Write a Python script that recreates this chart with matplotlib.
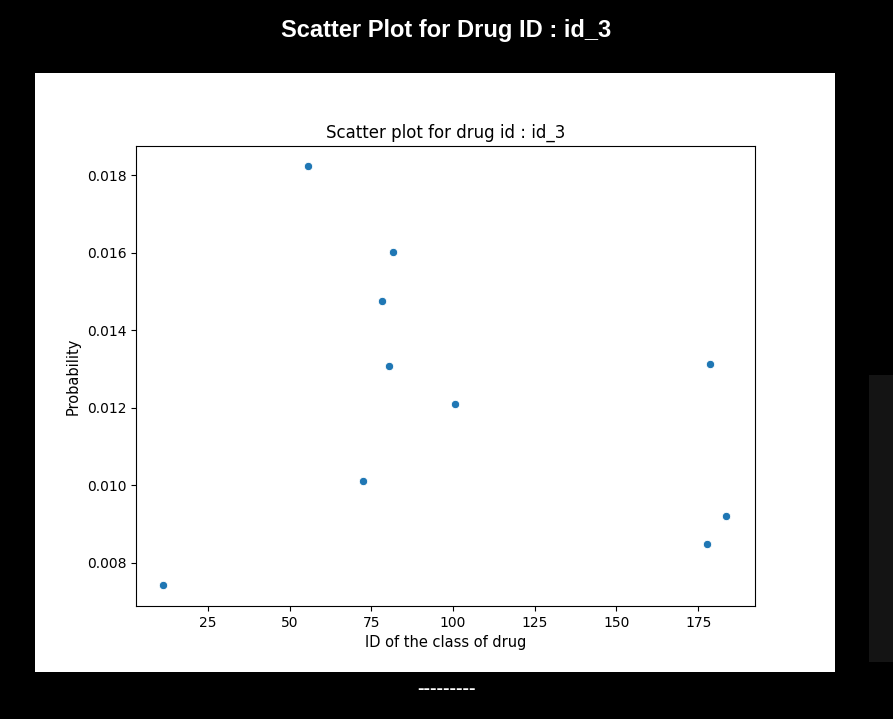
import matplotlib
matplotlib.use('Agg')
import matplotlib.pyplot as plt
from matplotlib.patches import Rectangle

# values
drug_class_id = [55.6, 81.6, 78.2, 80.4, 100.5, 72.4, 11.2, 178.7, 183.6, 177.8]
probability = [0.01823, 0.01602, 0.01475, 0.01308, 0.01210, 0.01010, 0.00742,
               0.01313, 0.00920, 0.00848]
x_ticks = [25, 50, 75, 100, 125, 150, 175]
y_ticks = [0.008, 0.010, 0.012, 0.014, 0.016, 0.018]

W, H = 893, 719
fig = plt.figure(figsize=(W/100, H/100), dpi=100, facecolor='black')

# background layer: white panel and dark strip at the right edge
bg = fig.add_axes([0, 0, 1, 1], zorder=0)
bg.set_xlim(0, W)
bg.set_ylim(H, 0)
bg.axis('off')
bg.add_patch(Rectangle((35, 73), 800, 599, facecolor='white', edgecolor='none'))
bg.add_patch(Rectangle((869, 375), 24, 287, facecolor='#141414', edgecolor='none'))

fig.text(0.5, 1-30/H, 'Scatter Plot for Drug ID : id_3', color='white', ha='center',
         va='center', fontsize=17, fontweight='bold', family='Liberation Sans')
fig.text(0.5, 1-689/H, '---------', color='white', ha='center', va='center',
         fontsize=14, fontweight='bold', family='Liberation Sans')

ax = fig.add_axes([136/W, 1-606/H, 619/W, 460/H], zorder=5)
ax.scatter(drug_class_id, probability, s=36, color='#1f77b4', edgecolors='white', linewidths=0.6)
ax.set_xlim(3.0, 192.4)
ax.set_ylim(0.00689, 0.01875)
ax.set_xticks(x_ticks)
ax.set_yticks(y_ticks)
ax.set_yticklabels(['%.3f' % v for v in y_ticks])
ax.tick_params(labelsize=10)
ax.set_xlabel('ID of the class of drug', fontsize=10.5)
ax.set_ylabel('Probability', fontsize=10.5)
ax.set_title('Scatter plot for drug id : id_3', fontsize=12)

fig.savefig('out.png', dpi=100, facecolor='black')
